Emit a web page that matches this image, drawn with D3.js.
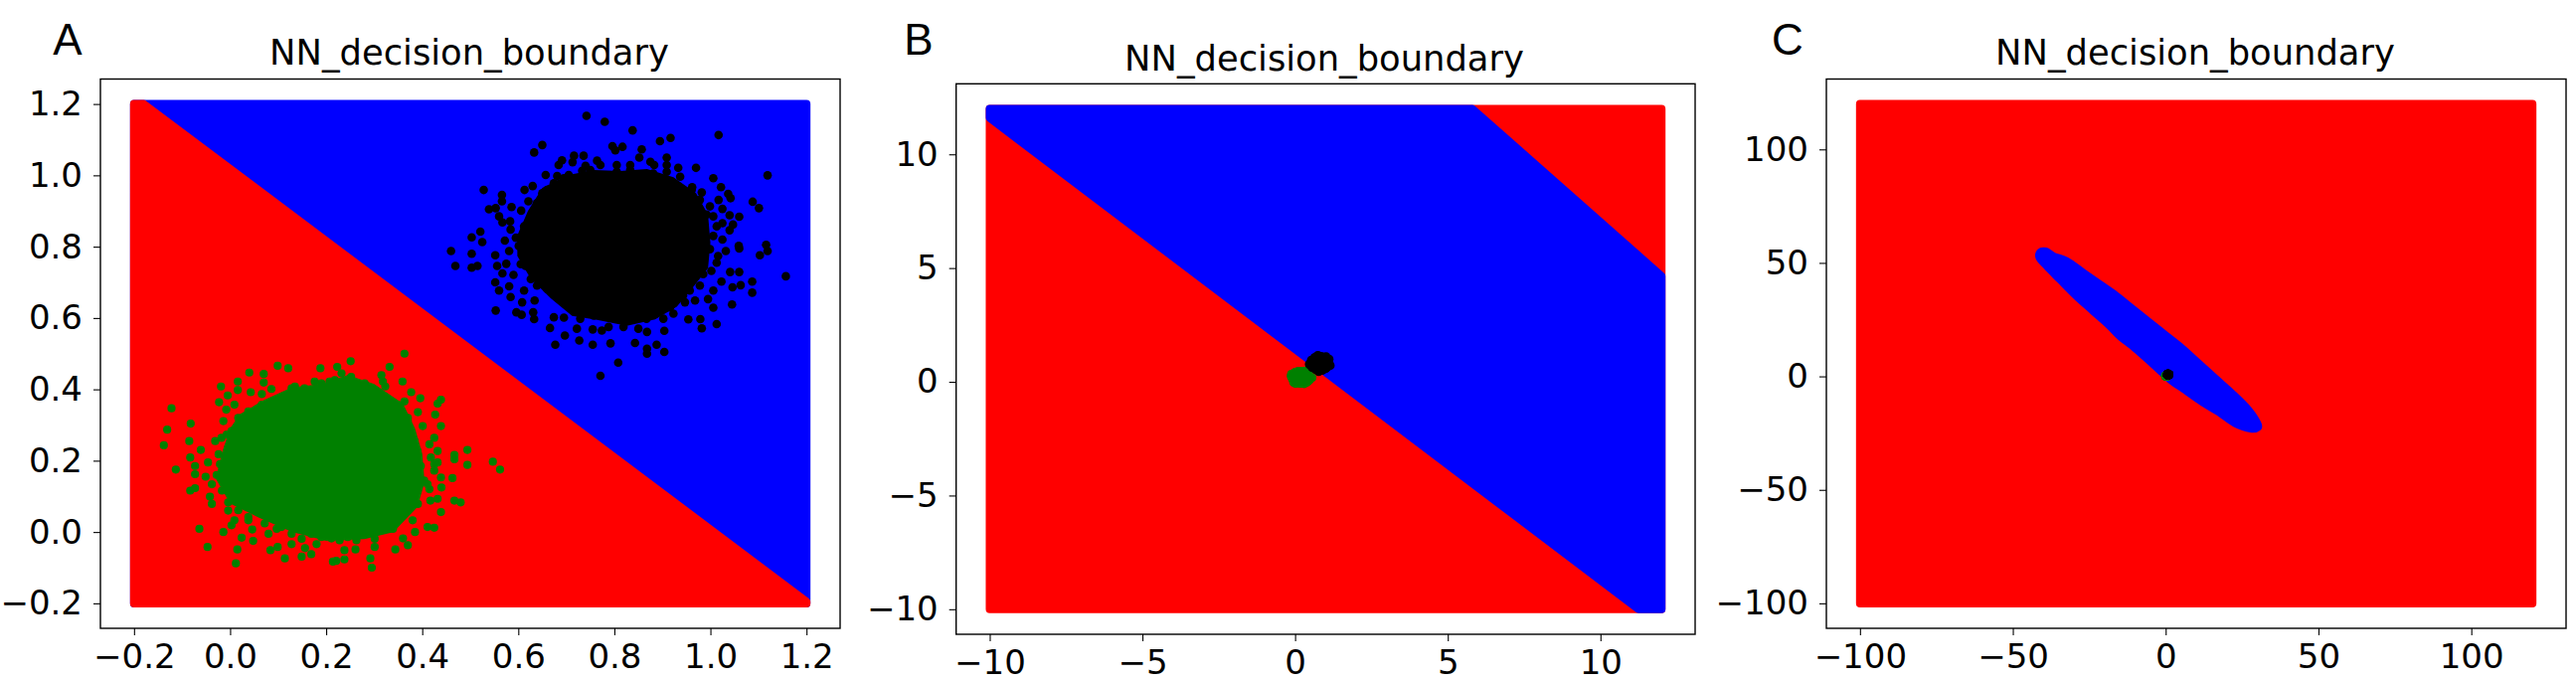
<!DOCTYPE html>
<html><head><meta charset="utf-8">
<script src="https://cdnjs.cloudflare.com/ajax/libs/d3/7.8.5/d3.min.js"></script>
<style>html,body{margin:0;background:#fff}svg{display:block}text{font-family:"DejaVu Sans";fill:#000}</style>
</head><body><svg id="c" width="2591" height="685"></svg>
<script>
const panelLetters = ["A","B","C"];
const titleText = "NN_decision_boundary";
const xTicksA = [-0.2,0,0.2,0.4,0.6,0.8,1,1.2];
const yTicksA = [-0.2,0,0.2,0.4,0.6,0.8,1,1.2];
const ticksB = [-10,-5,0,5,10];
const ticksC = [-100,-50,0,50,100];
const squareA = [[-0.2,-0.2],[1.2,-0.2],[1.2,1.2],[-0.2,1.2]];
const squareB = [[-10,-10],[12,-10],[12,12],[-10,12]];
const squareC = [[-100,-100],[120,-100],[120,120],[-100,120]];
const redRegionA = [[-0.2,-0.2],[1.2,-0.2],[1.2,-0.195],[-0.18,1.2],[-0.2,1.2]];
const blueRegionB = [[-10,12],[5.8,12],[12,4.65],[12,-10],[11.25,-10],[-10,11.6]];
const blueRegionC = [[-41.7,55.6],[-39,56.3],[-36.3,54.1],[-31.9,51.9],[-26.5,46.8],[-21.1,41.7],[-15.7,36.6],[-10.3,30.8],[-4.8,24.9],[.6,19.1],[6,13.3],[11.4,6.7],[16.8,.1],[22.3,-6.5],[27.7,-13.8],[30.9,-20.3],[30.9,-23.3],[27.7,-24.3],[22.3,-21.8],[16.8,-16.7],[11.4,-12.3],[6,-7.2],[.6,-2.1],[-4.8,4.5],[-10.3,11.1],[-15.7,16.9],[-18.9,21.3],[-24.4,27.9],[-29.8,34.4],[-35.2,41.7],[-39.5,47.6],[-42.2,52]];
const blackCore = [[.650,.965],[.702,1.000],[.757,1.015],[.812,1.012],[.868,1.018],[.923,.995],[.970,.950],[.995,.890],[1.000,.811],[.995,.740],[.960,.680],[.930,.632],[.885,.596],[.826,.578],[.764,.595],[.712,.606],[.668,.655],[.625,.712],[.598,.774],[.598,.832],[.620,.900]];
const greenCore = [[.020,.330],[.070,.370],[.128,.405],[.190,.415],[.245,.440],[.300,.415],[.360,.360],[.385,.290],[.400,.220],[.405,.140],[.390,.070],[.340,.000],[.280,-.020],[.200,-.025],[.130,.000],[.060,.040],[.000,.080],[-.030,.150],[-.015,.230],[.000,.290]];
const blackDots = [[.742,1.167],[.780,1.150],[.838,1.126],[1.017,1.113],[.895,1.096],[.917,1.105],[.650,1.085],[.633,1.064],[.796,1.082],[.802,1.070],[.817,1.080],[.857,1.073],[.852,1.050],[.736,1.055],[.716,1.055],[.713,1.037],[.691,1.042],[.684,1.029],[.764,1.041],[.771,1.029],[.805,1.029],[.833,1.029],[.875,1.038],[.883,1.029],[.909,1.050],[.909,1.029],[.933,1.021],[.970,1.021],[1.119,1.000],[1.006,.992],[1.022,.967],[1.037,.948],[1.042,.936],[1.088,.926],[1.101,.908],[1.060,.884],[1.040,.888],[1.047,.862],[1.040,.846],[1.025,.820],[1.059,.802],[1.060,.795],[1.116,.805],[1.119,.788],[1.103,.776],[1.157,.717],[1.087,.702],[1.087,.671],[1.063,.692],[1.046,.686],[1.060,.729],[1.041,.729],[1.045,.638],[1.006,.629],[1.013,.583],[.982,.571],[.979,.597],[.954,.596],[.904,.564],[.904,.505],[.888,.525],[.868,.500],[.868,.514],[.843,.530],[.808,.475],[.771,.438],[.792,.529],[.755,.525],[.727,.537],[.697,.551],[.677,.525],[.666,.572],[.633,.597],[.607,.609],[.596,.616],[.553,.621],[.584,.659],[.560,.677],[.552,.700],[.581,.689],[.590,.721],[.567,.725],[.556,.746],[.575,.752],[.552,.776],[.515,.746],[.503,.741],[.469,.746],[.460,.788],[.503,.780],[.525,.813],[.503,.826],[.521,.842],[.572,.817],[.528,.959],[.566,.945],[.566,.927],[.539,.905],[.553,.908],[.560,.885],[.567,.868],[.583,.871],[.586,.911],[.606,.901],[.621,.927],[.613,.959],[.630,.970],[.657,1.001],[.681,.998],[.705,1.001],[.733,1.013],[.740,1.027],[.982,.952],[.962,.967],[1.017,.931],[1.025,.906],[1.006,.885],[1.025,.866],[1.032,.788],[1.016,.774],[1.002,.732],[1.023,.702],[1.006,.677],[.995,.653],[.968,.649],[.947,.644],[.923,.612],[.902,.598],[.868,.561],[.850,.570],[.819,.575],[.788,.575],[.774,.565],[.755,.568],[.722,.570],[.695,.601],[.674,.602],[.634,.649],[.608,.644],[.612,.677],[.631,.616],[.605,.751],[.581,.788],[.595,.825],[.584,.848],[.612,.857],[.626,.880],[.650,.950],[.688,.922],
[.660,.959],[.674,.978],[.695,.992],[.729,.992],[.750,1.015],[.778,.992],[.805,1.010],[.833,1.015],[.854,1.001],[.881,1.005],[.909,1.010],[.937,.996],[.961,.959],[.978,.931],[.999,.913],[.992,.890],[1.013,.857],[1.006,.830],[.999,.793],[1.013,.755],[.985,.723],[.978,.691],[.957,.677],[.943,.663],[.916,.630],[.888,.617],[.867,.598],[.840,.607],[.812,.603],[.785,.626],[.757,.607],[.736,.617],[.729,.598],[.708,.644],[.688,.654],[.660,.681],[.639,.691],[.626,.709],[.615,.746],[.626,.774],[.601,.802],[.612,.830],[.633,.853],[.643,.894],[.639,.922],[.660,.941]];
const greenDots = [[.363,.500],[.251,.479],[.099,.466],[.121,.459],[.188,.459],[.223,.463],[.332,.463],[.040,.447],[.070,.443],[.315,.440],[.318,.422],[.359,.422],[.323,.408],[.016,.422],[.070,.419],[-.019,.408],[.016,.398],[.086,.401],[.043,.392],[-.005,.383],[.066,.387],[.377,.392],[.396,.375],[.439,.371],[.432,.360],[-.023,.364],[.113,.377],[-.122,.347],[-.008,.343],[.009,.357],[.072,.352],[.427,.329],[.391,.336],[-.082,.304],[-.131,.287],[-.014,.311],[.017,.320],[.439,.297],[.401,.297],[-.085,.255],[-.138,.243],[.425,.264],[.415,.246],[-.031,.255],[-.061,.230],[.494,.230],[-.083,.209],[.467,.216],[.467,.204],[.432,.227],[.494,.188],[.547,.197],[.562,.175],[-.113,.175],[-.046,.195],[-.073,.185],[-.073,.162],[-.051,.155],[-.028,.160],[-.038,.134],[-.073,.123],[-.083,.116],[.463,.151],[.439,.153],[.440,.125],[.415,.120],[.467,.088],[.480,.083],[.417,.088],[.432,.093],[.439,.056],[-.042,.099],[-.038,.079],[-.004,.083],[-.004,.060],[.009,.033],[-.064,.009],[-.014,.000],[.003,.019],[.024,-.016],[.048,-.025],[.046,.007],[-.047,-.042],[.015,-.049],[.012,-.088],[.084,-.051],[.099,-.042],[.114,-.074],[.128,-.034],[.149,-.069],[.156,-.045],[.169,-.062],[.180,-.034],[.214,-.083],[.221,-.081],[.238,-.077],[.238,-.051],[.261,-.049],[.292,-.074],[.295,-.100],[.301,-.042],[.344,-.049],[.370,-.037],[.360,-.018],[.385,.000],[.411,.014],[.425,.012],[.339,.009],[.380,.033],[.080,-.005],[.097,.009],[.135,.009],[.149,-.019],[.190,-.014],[.228,-.023],[.263,-.023],[.301,-.019],[.328,.023],[.391,.079],[.411,.134],[.425,.172],[.432,.195],[.397,.185],[.384,.255],[.363,.269],[.370,.320],[.363,.366],[.321,.368],[.280,.417],[.252,.435],[.232,.445],[.207,.422],[.176,.422],[.135,.408],[.052,.329],[.031,.320],[-.007,.273],[-.024,.218],[-.004,.172],[.000,.125],[.038,.042],
[.128,.403],[.155,.403],[.190,.417],[.218,.426],[.273,.403],[.294,.385],[.321,.371],[.349,.357],[.370,.311],[.356,.274],[.390,.227],[.418,.209],[.425,.190],[.404,.144],[.390,.116],[.376,.098],[.370,.061],[.342,.037],[.314,.014],[.287,-.004],[.245,-.014],[.211,-.018],[.169,-.005],[.128,-.005],[.107,.014],[.072,.024],[.038,.033],[.017,.061],[-.017,.116],[-.004,.144],[.010,.172],[-.021,.190],[-.004,.236],[-.018,.264],[.003,.283],[.017,.301],[.038,.338],[.066,.357],[.093,.366],[.110,.380]];

const RED="#ff0000", BLUE="#0000ff", GREEN="#008000", BLACK="#000000";
const panels = [
 {letter:panelLetters[0],lx:68,ly:55,tx:472,ty:65,frame:[101,845,632,79.5],dom:[-0.27,1.27],xt:xTicksA,yt:yTicksA,f:d3.format(".1f"),
  layers:[[squareA,BLUE,8,d3.curveLinearClosed],[redRegionA,RED,8,d3.curveLinearClosed]]},
 {letter:panelLetters[1],lx:924,ly:55,tx:1332,ty:71,frame:[961.7,1705,638,84.3],dom:[-11.1,13.1],xt:ticksB,yt:ticksB,f:d3.format("d"),
  layers:[[squareB,RED,8,d3.curveLinearClosed],[blueRegionB,BLUE,8,d3.curveLinearClosed]]},
 {letter:panelLetters[2],lx:1798,ly:55,tx:2208,ty:65,frame:[1837,2581,632,79.5],dom:[-111,131],xt:ticksC,yt:ticksC,f:d3.format("d"),
  layers:[[squareC,RED,8,d3.curveLinearClosed],[blueRegionC,BLUE,2,d3.curveCardinalClosed]]}
];
const svg=d3.select("#c");
panels.forEach(p=>{
  const [l,r,b,t]=p.frame;
  const x=d3.scaleLinear().domain(p.dom).range([l,r]);
  const y=d3.scaleLinear().domain(p.dom).range([b,t]);
  const line=c=>d3.line().x(d=>x(d[0])).y(d=>y(d[1])).curve(c);
  const g=svg.append("g");
  p.layers.forEach(([pts,col,w,c])=>{
    g.append("path").attr("d",line(c)(pts)).attr("fill",col).attr("stroke",col).attr("stroke-width",w).attr("stroke-linejoin","round");
  });
  [[greenCore,greenDots,GREEN,4.1],[blackCore,blackDots,BLACK,4.3]].forEach(([core,dots,col,rad])=>{
    g.append("path").attr("d",line(d3.curveLinearClosed)(core)).attr("fill",col);
    g.selectAll(null).data(dots).join("circle").attr("cx",d=>x(d[0])).attr("cy",d=>y(d[1])).attr("r",rad).attr("fill",col);
  });
  g.append("rect").attr("x",l).attr("y",t).attr("width",r-l).attr("height",b-t).attr("fill","none").attr("stroke","#000").attr("stroke-width",1.4);
  const ax=g.append("g").attr("transform",`translate(0,${b})`).call(d3.axisBottom(x).tickValues(p.xt).tickFormat(p.f).tickSize(7).tickPadding(9));
  const ay=g.append("g").attr("transform",`translate(${l},0)`).call(d3.axisLeft(y).tickValues(p.yt).tickFormat(p.f).tickSize(7).tickPadding(11));
  [ax,ay].forEach(a=>{a.select(".domain").remove();a.selectAll("line").attr("stroke","#000").attr("stroke-width",1.1);
    a.selectAll("text").style("font-family",'"DejaVu Sans"').style("font-size","34px").attr("fill","#000");});
  g.append("text").attr("x",p.tx).attr("y",p.ty).attr("text-anchor","middle").style("font-size","35.3px").text(titleText);
  g.append("text").attr("x",p.lx).attr("y",p.ly).attr("text-anchor","middle").style("font-family",'"Liberation Sans"').style("font-size","44px").text(p.letter);
});
</script></body></html>
